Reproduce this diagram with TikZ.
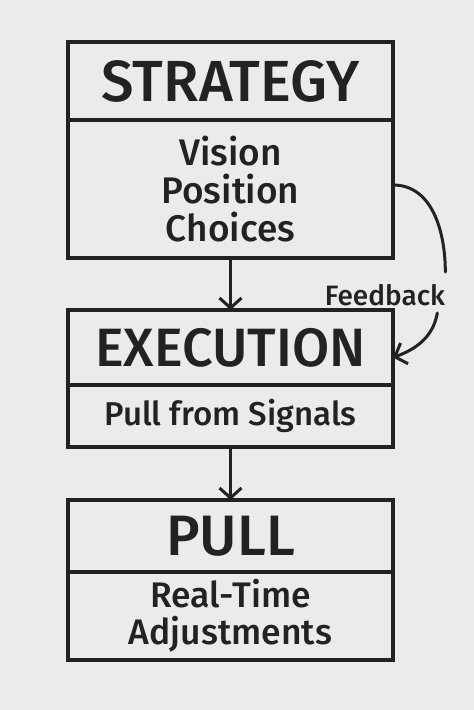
\documentclass[tikz,border=0pt]{standalone}
\usepackage{fontspec}
\setmainfont{Fira Sans}[UprightFont=* Medium]
\usetikzlibrary{shapes,arrows.meta}
\definecolor{ink}{HTML}{222222}
\definecolor{paper}{HTML}{EBEBEB}

\begin{document}
\begin{tikzpicture}[x=1pt,y=-1pt]
    % Define styles
    \tikzstyle{head} = [rectangle, draw=ink, line width=3.5pt, text=ink, text centered, minimum width=325pt, inner sep=0pt, outer sep=0pt, font=\fontsize{54}{60}\selectfont]
    \tikzstyle{body} = [rectangle, draw=ink, line width=3.5pt, text=ink, align=center, minimum width=325pt, inner sep=0pt, outer sep=0pt, font=\fontsize{36}{38}\selectfont]
    \tikzstyle{label} = [text=ink, inner sep=0pt, font=\fontsize{28}{30}\selectfont]
    \tikzstyle{arrow} = [draw=ink, line width=3pt, line cap=round, -{Straight Barb[length=10pt,width=22pt,line width=3pt]}]
    \tikzstyle{line} = [draw=ink, line width=3pt, line cap=round]

    \fill[paper] (0,0) rectangle (474,710);
    \useasboundingbox (0,0) rectangle (474,710);

    % Boxes
    \node [head, minimum height=78pt, font=\fontsize{58}{60}\selectfont] (strategy) at (230.5,81) {STRATEGY};
    \node [body, minimum height=138pt, font=\fontsize{37}{38}\selectfont, anchor=north] (strategyBody) at (strategy.south) {Vision\\Position\\Choices};
    \node [head, minimum height=75pt] (execution) at (230.5,347.5) {EXECUTION};
    \node [body, minimum height=62pt, font=\fontsize{33}{38}\selectfont, anchor=north] (executionBody) at (execution.south) {Pull from Signals};
    \node [head, minimum height=72pt, font=\fontsize{57}{60}\selectfont] (pull) at (230.5,536) {PULL};
    \node [body, minimum height=88pt, font=\fontsize{35.5}{37}\selectfont, anchor=north] (pullBody) at (pull.south) {Real-Time\\Adjustments};

    % Feedback label
    \node [label] (feedback) at (385,295) {Feedback};

    % Connections
    \draw [arrow] (strategyBody) -- (execution);
    \draw [arrow] (executionBody) -- (pull);
    \draw [line] ([yshift=4pt]strategyBody.east) to[out=0,in=90] ([yshift=12pt]feedback.north east);
    \draw [arrow] ([xshift=-8pt,yshift=-7pt]feedback.south east) to[out=-100,in=20] ([yshift=-10pt]execution.east);
\end{tikzpicture}
\end{document}
